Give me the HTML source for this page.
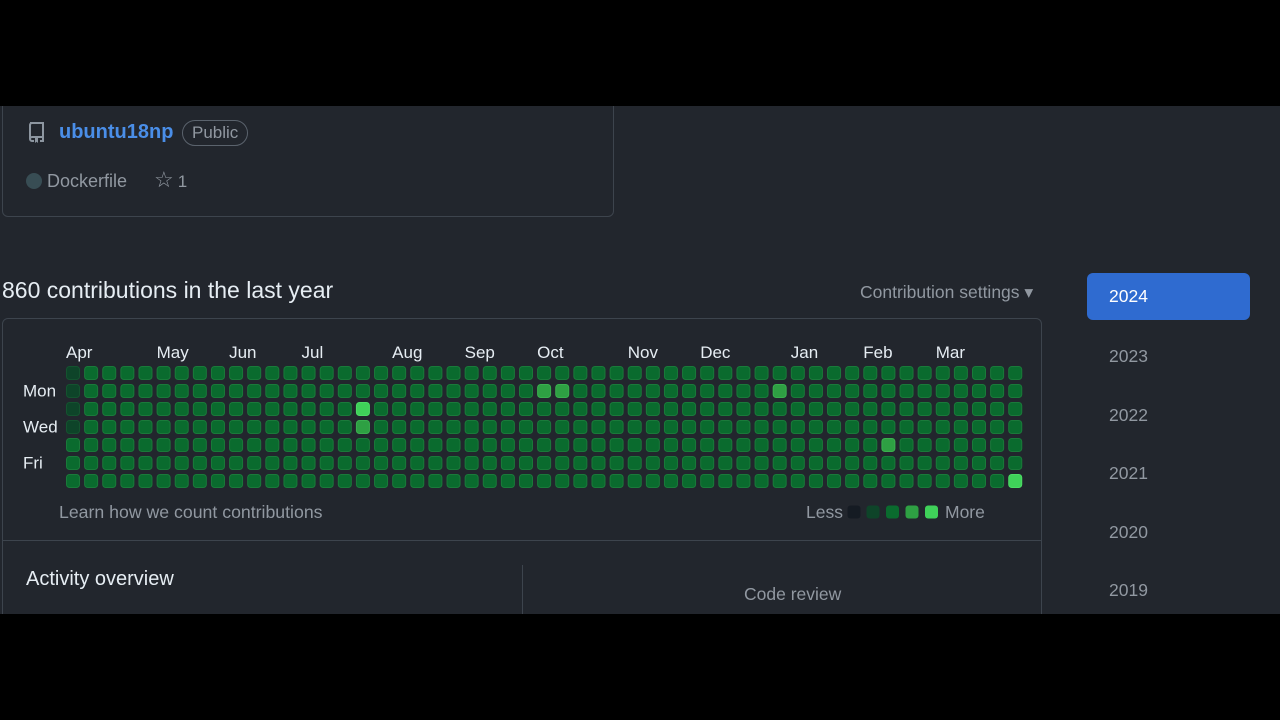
<!DOCTYPE html>
<html><head><meta charset="utf-8"><style>
body{margin:0;width:1280px;height:720px;background:#000;overflow:hidden;font-family:"Liberation Sans",sans-serif;}
#page{position:absolute;left:0;top:106px;width:1280px;height:508px;background:#22262d;overflow:hidden;}
.abs{position:absolute;}
</style></head><body>
<div id="page">
  <div class="abs" style="left:2px;top:-10px;width:610px;height:119px;border:1px solid #3d444d;border-radius:6px;"></div>
  <svg class="abs" style="left:27px;top:15px" width="20" height="22" viewBox="0 0 20 22"><path d="M3 2h13v14H5a2 2 0 0 0-2 2V4a2 2 0 0 1 2-2M3 18a2 2 0 0 0 2 2h2M13 20h3v-4" fill="none" stroke="#8d96a0" stroke-width="2"/><path d="M8 17v5l1.5-1.2L11 22v-5z" fill="#8d96a0"/></svg>
  <div class="abs" style="left:59px;top:15px;color:#4a8ee8;font-weight:bold;font-size:20px;">ubuntu18np</div>
  <div class="abs" style="left:182px;top:14px;height:24px;padding:0 9px;border:1px solid #5b636d;border-radius:13px;color:#9198a1;font-size:17px;line-height:24px;">Public</div>
  <div class="abs" style="left:26px;top:67px;width:16px;height:16px;border-radius:8px;background:#384d54;"></div>
  <div class="abs" style="left:47px;top:65px;color:#9198a1;font-size:18px;">Dockerfile</div>
  <div class="abs" style="left:154px;top:61px;color:#9198a1;font-size:22px;">☆<span style="font-size:17px;margin-left:4px">1</span></div>
  <div class="abs" style="left:2px;top:171px;color:#e6edf3;font-size:23px;">860 contributions in the last year</div>
  <div class="abs" style="left:860px;top:176px;color:#9198a1;font-size:17.5px;">Contribution settings ▾</div>
  <div class="abs" style="left:2px;top:212px;width:1038px;height:320px;border:1px solid #3d444d;border-radius:6px;"></div>
  <div class="abs" style="left:3px;top:434px;width:1038px;height:1px;background:#3d444d;"></div>
  <svg id="cal" class="abs" style="left:0;top:124px" width="1040" height="400"></svg>
  <div class="abs" style="left:59px;top:396px;color:#9198a1;font-size:17.7px;">Learn how we count contributions</div>
  <div class="abs" style="left:806px;top:396px;color:#9198a1;font-size:17.5px;">Less</div>
  <svg class="abs" style="left:846px;top:398px" width="96" height="16">
    <rect x="1.5" y="1.5" width="13" height="13" rx="3" fill="#151b23"/>
    <rect x="20.5" y="1.5" width="13" height="13" rx="3" fill="#0e4429"/>
    <rect x="40" y="1.5" width="13" height="13" rx="3" fill="#0a6b2e"/>
    <rect x="59.5" y="1.5" width="13" height="13" rx="3" fill="#2ea043"/>
    <rect x="79" y="1.5" width="13" height="13" rx="3" fill="#3fd159"/>
  </svg>
  <div class="abs" style="left:945px;top:396px;color:#9198a1;font-size:17.5px;">More</div>
  <div class="abs" style="left:26px;top:462px;color:#e6edf3;font-size:20px;">Activity overview</div>
  <div class="abs" style="left:522px;top:459px;width:1px;height:60px;background:#3d444d;"></div>
  <div class="abs" style="left:744px;top:478px;color:#9198a1;font-size:17.5px;">Code review</div>
  <div class="abs" style="left:1087px;top:167px;width:163px;height:47px;background:#2f6bd0;border-radius:6px;color:#fff;font-size:17.5px;line-height:47px;box-sizing:border-box;padding-left:22px;">2024</div>
  <div class="abs" style="left:1109px;top:240px;color:#9198a1;font-size:17.5px;">2023</div>
  <div class="abs" style="left:1109px;top:299px;color:#9198a1;font-size:17.5px;">2022</div>
  <div class="abs" style="left:1109px;top:357px;color:#9198a1;font-size:17.5px;">2021</div>
  <div class="abs" style="left:1109px;top:416px;color:#9198a1;font-size:17.5px;">2020</div>
  <div class="abs" style="left:1109px;top:474px;color:#9198a1;font-size:17.5px;">2019</div>
</div>
<script>
const monthLabels=["Apr","May","Jun","Jul","Aug","Sep","Oct","Nov","Dec","Jan","Feb","Mar"];
const monthWeeks=[0,5,9,13,18,22,26,31,35,40,44,48];
const dayLabels=["Mon","Wed","Fri"];
const dayRows=[1,3,5];
const weekLevels=[
"1111222","2222222","2222222","2222222","2222222","2222222","2222222","2222222","2222222","2222222",
"2222222","2222222","2222222","2222222","2222222","2222222","2243222","2222222","2222222","2222222",
"2222222","2222222","2222222","2222222","2222222","2222222","2322222","2322222","2222222","2222222",
"2222222","2222222","2222222","2222222","2222222","2222222","2222222","2222222","2222222","2322222",
"2222222","2222222","2222222","2222222","2222222","2222322","2222222","2222222","2222222","2222222",
"2222222","2222222","2222224"];
const colors=["#151b23","#0e4429","#0a6b2e","#2ea043","#3fd159"];
const strokes=["#1f242c","#14532f","#1a7a3a","#3ab04f","#4cdc65"];
const svg=document.getElementById('cal');const NS="http://www.w3.org/2000/svg";
const x0=66.5,y0=136.5,step=18.12,rowStep=18,cs=13;
const xw=i=>x0+i*step, yd=d=>y0+d*rowStep;
monthLabels.forEach((m,i)=>{const t=document.createElementNS(NS,'text');


t.setAttribute('x',xw(monthWeeks[i])-0.5);t.setAttribute('y',128);t.setAttribute('fill','#e6edf3');t.setAttribute('font-size','17');t.textContent=m;svg.appendChild(t);});
dayLabels.forEach((d,i)=>{const t=document.createElementNS(NS,'text');


t.setAttribute('x',23);t.setAttribute('y',yd(dayRows[i])+12);t.setAttribute('fill','#e6edf3');t.setAttribute('font-size','17');t.textContent=d;svg.appendChild(t);});
weekLevels.forEach((w,i)=>{for(let d=0;d<7;d++){const r=document.createElementNS(NS,'rect');


const lv=+w[d];
r.setAttribute('x',xw(i));r.setAttribute('y',yd(d));r.setAttribute('width',cs);r.setAttribute('height',cs);r.setAttribute('rx',3);r.setAttribute('fill',colors[lv]);r.setAttribute('stroke',strokes[lv]);r.setAttribute('stroke-width','1');svg.appendChild(r);}});
</script>
</body></html>
